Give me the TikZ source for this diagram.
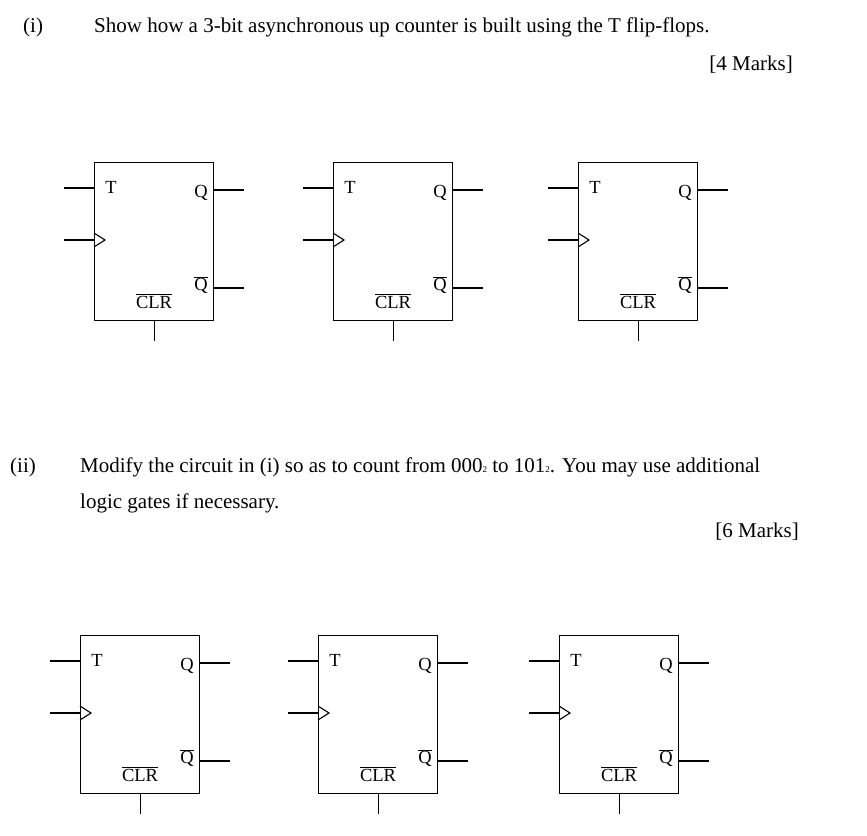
\documentclass[tikz,border=0pt]{standalone}
\usepackage{fontspec}
\setmainfont{Liberation Serif}
\usetikzlibrary{calc}
\begin{document}
\begin{tikzpicture}[x=1pt,y=-1pt,
  box/.style={draw,line width=1.1pt,minimum width=119pt,minimum height=158pt,inner sep=0pt},
  wire/.style={line width=1.1pt},
  lbl/.style={font=\fontsize{18.5}{20}\selectfont,inner sep=0pt},
  txt/.style={font=\fontsize{21}{24}\selectfont,inner sep=0pt,anchor=base west}]
\useasboundingbox (0,0) rectangle (867,835);
\newcommand{\myff}[3]{%
  \node[box,anchor=north west] (#1) at (#2,#3) {};
  \coordinate (#1t) at ($(#1.north west)+(-30,26)$);
  \coordinate (#1c) at ($(#1.north west)+(-30,78)$);
  \coordinate (#1q) at ($(#1.north east)+(30,28)$);
  \coordinate (#1n) at ($(#1.north east)+(30,126)$);
  \coordinate (#1r) at ($(#1.south)+(0,20)$);
  \draw[wire] (#1t) -- ($(#1.north west)+(0,26)$);
  \draw[wire] (#1c) -- ($(#1.north west)+(0,78)$);
  \draw[wire] ($(#1.north west)+(0,71)$) -- ($(#1.north west)+(11,78)$) -- ($(#1.north west)+(0,85)$);
  \draw[wire] ($(#1.north east)+(0,28)$) -- (#1q);
  \draw[wire] ($(#1.north east)+(0,126)$) -- (#1n);
  \draw[wire] (#1.south) -- (#1r);
  \node[lbl] (#1lt) at ($(#1.north west)+(17,25)$) {T};
  \node[lbl] (#1lq) at ($(#1.north east)+(-13,31)$) {Q};
  \node[lbl] (#1lnq) at ($(#1.north east)+(-13,123)$) {$\overline{\mbox{Q}}$};
  \node[lbl] (#1lr) at ($(#1.south)+(0,-20)$) {$\overline{\mbox{CLR}}$};
}
\node[txt] (i) at (23,32) {(i)};
\node[txt] (q1) at (94,32) {Show how a 3-bit asynchronous up counter is built using the T flip-flops.};
\node[txt,anchor=base east] (m1) at (793,70) {[4 Marks]};
\myff{a}{94}{162}
\myff{b}{333}{162}
\myff{c}{578}{162}
\node[txt] (ii) at (10,472) {(ii)};
\node[txt] (q2) at (80,472) {Modify the circuit in (i) so as to count from 000{\fontsize{9}{10}\selectfont 2} to 101{\fontsize{9}{10}\selectfont 2}. You may use additional};
\node[txt] (q2b) at (80,508) {logic gates if necessary.};
\node[txt,anchor=base east] (m2) at (799,537) {[6 Marks]};
\myff{d}{80}{635}
\myff{e}{318}{635}
\myff{f}{559}{635}
\end{tikzpicture}
\end{document}
